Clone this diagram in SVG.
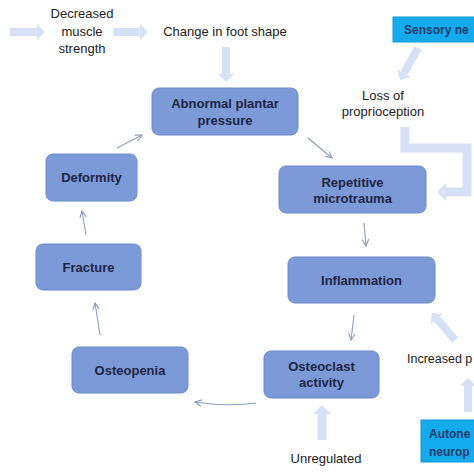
<svg xmlns="http://www.w3.org/2000/svg" width="474" height="474" viewBox="0 0 474 474">
<defs>
<style>
.box{fill:#7d9ad8;stroke:#6c8acb;stroke-width:1}
.nb{fill:#13abec;stroke:#0f9ad6;stroke-width:1}
.bt{font-family:"Liberation Sans",Arial,sans-serif;font-size:13px;font-weight:bold;fill:#1c2544;text-anchor:middle}
.nt{font-family:"Liberation Sans",Arial,sans-serif;font-size:12px;font-weight:bold;fill:#1d3a6e}
.lt{font-family:"Liberation Sans",Arial,sans-serif;font-size:13px;fill:#222;text-anchor:middle}
.blk{fill:none;stroke:#d7e1f5;stroke-linecap:butt;stroke-linejoin:miter;marker-end:url(#bh)}
.thin{fill:none;stroke:#8c9cc3;stroke-width:1.1;marker-end:url(#th)}
</style>
<marker id="bh" viewBox="0 0 10 20" refX="0" refY="10" markerWidth="1" markerHeight="2" orient="auto" markerUnits="strokeWidth">
<path d="M0,0 L10,10 L0,20 z" fill="#d7e1f5"/>
</marker>
<marker id="th" viewBox="0 0 8 8" refX="7" refY="4" markerWidth="8" markerHeight="8" orient="auto" markerUnits="userSpaceOnUse">
<path d="M0.5,0.8 L7,4 L0.5,7.2" fill="none" stroke="#8c9cc3" stroke-width="1.1"/>
</marker>
</defs>
<rect width="474" height="474" fill="#ffffff"/>

<g id="connectors">
<line class="blk" x1="10" y1="32" x2="37" y2="32" stroke-width="8"/>
<line class="blk" x1="113" y1="32" x2="140" y2="32" stroke-width="8"/>
<line class="blk" x1="226" y1="47" x2="226" y2="74" stroke-width="8"/>
<line class="blk" x1="418" y1="48" x2="404" y2="73" stroke-width="8"/>
<path class="blk" d="M405,127 V148 H467 V192 H446" stroke-width="9"/>
<line class="blk" x1="455" y1="340" x2="437" y2="319" stroke-width="8"/>
<line class="blk" x1="468" y1="412" x2="468" y2="386" stroke-width="8"/>
<line class="blk" x1="322" y1="440" x2="322" y2="414" stroke-width="9"/>

<line class="thin" x1="117" y1="148" x2="142" y2="135"/>
<line class="thin" x1="308" y1="138" x2="332" y2="158"/>
<line class="thin" x1="364" y1="223" x2="366" y2="246"/>
<line class="thin" x1="354" y1="315" x2="351" y2="340"/>
<path class="thin" d="M256,403 Q226,407 195,402"/>
<line class="thin" x1="100" y1="335" x2="95" y2="303"/>
<line class="thin" x1="86" y1="235" x2="82" y2="211"/>
</g>

<g id="decreased-muscle-strength">
<text class="lt" x="82" y="18">Decreased</text>
<text class="lt" x="82" y="36">muscle</text>
<text class="lt" x="82" y="53">strength</text>
</g>
<g id="change-foot-shape">
<text class="lt" x="225" y="36">Change in foot shape</text>
</g>
<g id="sensory-neuropathy">
<rect class="nb" x="393" y="17" width="90" height="25"/>
<text class="nt" x="404" y="34">Sensory ne</text>
</g>
<g id="loss-proprioception">
<text class="lt" x="383" y="100">Loss of</text>
<text class="lt" x="383" y="116">proprioception</text>
</g>
<g id="abnormal-plantar-pressure">
<rect class="box" x="152" y="88" width="146" height="47" rx="7"/>
<text class="bt" x="225" y="107.5">Abnormal plantar</text>
<text class="bt" x="225" y="124.5">pressure</text>
</g>
<g id="repetitive-microtrauma">
<rect class="box" x="279" y="166" width="147" height="47" rx="7"/>
<text class="bt" x="352.5" y="186.5">Repetitive</text>
<text class="bt" x="352.5" y="202.5">microtrauma</text>
</g>
<g id="inflammation">
<rect class="box" x="288" y="257" width="147" height="46" rx="7"/>
<text class="bt" x="361.5" y="284.5">Inflammation</text>
</g>
<g id="osteoclast-activity">
<rect class="box" x="264" y="351" width="115" height="47" rx="7"/>
<text class="bt" x="321.5" y="370.5">Osteoclast</text>
<text class="bt" x="321.5" y="386.5">activity</text>
</g>
<g id="osteopenia">
<rect class="box" x="72" y="347" width="116" height="46" rx="7"/>
<text class="bt" x="130" y="374.5">Osteopenia</text>
</g>
<g id="fracture">
<rect class="box" x="36" y="244" width="105" height="46" rx="7"/>
<text class="bt" x="88.5" y="271.5">Fracture</text>
</g>
<g id="deformity">
<rect class="box" x="46" y="154" width="91" height="47" rx="7"/>
<text class="bt" x="91.5" y="181.5">Deformity</text>
</g>
<g id="increased">
<text class="lt" x="407" y="363" style="text-anchor:start;font-size:12.5px">Increased p</text>
</g>
<g id="autonomic-neuropathy">
<rect class="nb" x="421" y="420" width="60" height="42"/>
<text class="nt" x="429" y="438">Autone</text>
<text class="nt" x="429" y="456">neurop</text>
</g>
<g id="unregulated">
<text class="lt" x="326" y="463">Unregulated</text>
</g>
</svg>
